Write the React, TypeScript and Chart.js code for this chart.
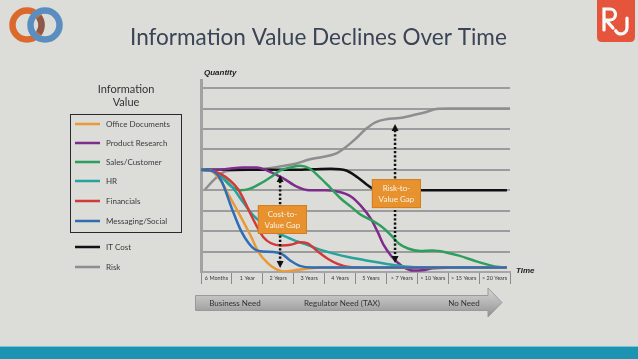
import React, { useEffect, useRef } from "react";
import { Chart, registerables } from "chart.js";

Chart.register(...registerables);

// ---------- data ----------
const categories = ["6 Months", "1 Year", "2 Years", "3 Years", "4 Years", "5 Years", "> 7 Years", "> 10 Years", "> 15 Years", "> 20 Years"];

const officeDocuments: [number, number][] = [[0, 5], [0.3, 4.97], [0.62, 4.5], [0.94, 3.65], [1.27, 2.75], [1.6, 1.8], [1.87, 0.95], [2.15, 0.45], [2.4, 0.17], [2.67, 0.03], [3.0, 0.07], [3.45, 0.17], [4.0, 0.22], [9.9, 0.22]];
const productResearch: [number, number][] = [[0, 5], [0.5, 5.0], [0.9, 5.06], [1.35, 5.12], [1.8, 5.12], [2.2, 4.93], [2.65, 4.6], [3.1, 4.18], [3.5, 4.0], [4.0, 4.0], [4.45, 3.93], [4.85, 3.7], [5.17, 3.25], [5.5, 2.6], [5.72, 1.95], [5.92, 1.3], [6.15, 0.8], [6.37, 0.45], [6.6, 0.2], [6.85, 0.07], [7.15, 0.08], [7.5, 0.18], [8.0, 0.21], [9.9, 0.22]];
const salesCustomer: [number, number][] = [[0, 5], [0.3, 4.97], [0.62, 4.73], [0.94, 4.24], [1.27, 4.0], [1.59, 4.08], [1.92, 4.33], [2.24, 4.63], [2.57, 4.97], [2.89, 5.12], [3.2, 5.2], [3.5, 5.08], [3.87, 4.6], [4.2, 4.1], [4.52, 3.6], [4.85, 3.2], [5.17, 2.8], [5.5, 2.55], [5.82, 2.25], [6.15, 1.8], [6.4, 1.4], [6.7, 1.15], [7.1, 1.03], [7.5, 1.05], [7.9, 0.97], [8.35, 0.8], [8.85, 0.55], [9.3, 0.35], [9.65, 0.24], [9.9, 0.22]];
const hr: [number, number][] = [[0, 5], [0.35, 4.95], [0.65, 4.7], [1.04, 4.1], [1.37, 3.4], [1.69, 2.77], [2.02, 2.35], [2.34, 2.02], [2.67, 1.78], [3.0, 1.56], [3.35, 1.38], [3.8, 1.12], [4.3, 0.9], [4.8, 0.72], [5.3, 0.58], [5.8, 0.45], [6.3, 0.33], [6.8, 0.24], [7.3, 0.21], [9.9, 0.22]];
const financials: [number, number][] = [[0, 5], [0.3, 4.97], [0.62, 4.82], [0.94, 4.48], [1.2, 4.05], [1.4, 3.5], [1.6, 2.85], [1.82, 2.2], [2.02, 1.7], [2.25, 1.42], [2.6, 1.3], [2.9, 1.33], [3.2, 1.46], [3.45, 1.4], [3.8, 0.98], [4.1, 0.65], [4.42, 0.4], [4.8, 0.24], [5.3, 0.21], [9.9, 0.22]];
const messagingSocial: [number, number][] = [[0, 5], [0.35, 4.95], [0.65, 4.5], [1.0, 3.1], [1.3, 2.0], [1.55, 1.4], [1.75, 1.1], [2.0, 1.0], [2.35, 0.98], [2.65, 0.85], [2.9, 0.55], [3.2, 0.3], [3.6, 0.22], [9.9, 0.22]];
const itCost: [number, number][] = [[0, 5], [1, 5], [2, 5], [3, 5.0], [3.6, 5.03], [4.2, 5.05], [4.7, 4.97], [5.05, 4.65], [5.35, 4.3], [5.6, 4.05], [5.9, 4.0], [9.9, 4.0]];
const risk: [number, number][] = [[0.13, 4.04], [0.46, 4.57], [0.8, 4.93], [1.5, 5.0], [2.2, 5.08], [2.6, 5.18], [3.06, 5.3], [3.5, 5.51], [3.93, 5.63], [4.36, 5.79], [4.69, 6.12], [5.01, 6.53], [5.34, 7.01], [5.66, 7.34], [6.0, 7.48], [6.42, 7.54], [6.85, 7.67], [7.29, 7.83], [7.61, 7.98], [8.05, 8.0], [10, 8.0]];

const valueNames = ["Office Documents", "Product Research", "Sales/Customer", "HR", "Financials", "Messaging/Social"];
const valueColors = ["#E89A3A", "#7D2C8C", "#2E9E5E", "#25A39C", "#D23A3A", "#2F6DB5"];
const otherNames = ["IT Cost", "Risk"];
const otherColors = ["#111111", "#8E8E8E"];

const arrowLabels = ["Business Need", "Regulator Need (TAX)", "No Need"];
const chartTitle = "Information Value Declines Over Time";

// ---------- decoration plugin ----------
const decor = {
  id: "decor",
  beforeDraw(chart: any) {
    const ctx = chart.ctx as CanvasRenderingContext2D;
    const W = chart.width, H = chart.height;
    ctx.save();
    ctx.fillStyle = "#DCDCD8";
    ctx.fillRect(0, 0, W, H);
    // bottom teal bar
    ctx.fillStyle = "#1B93B1";
    ctx.fillRect(0, 346, W, H - 346);
    ctx.fillStyle = "#7CC4D6";
    ctx.fillRect(0, 346, W, 1);

    // title
    ctx.font = "400 20px Lato, 'Open Sans', sans-serif";
    const tw = ctx.measureText(chartTitle).width;
    const fs = 20 * 377 / tw;
    ctx.font = `400 ${fs}px Lato, 'Open Sans', sans-serif`;
    ctx.fillStyle = "#3B4454";
    ctx.textAlign = "left";
    ctx.textBaseline = "alphabetic";
    ctx.fillText(chartTitle, 130, 45);

    // left logo (interlocking rings)
    ctx.lineWidth = 6.5;
    ctx.strokeStyle = "#D9692C";
    ctx.beginPath(); ctx.arc(27, 25, 14.5, 0, Math.PI * 2); ctx.stroke();
    ctx.strokeStyle = "#5A8DC0";
    ctx.beginPath(); ctx.arc(45, 25, 14.5, 0, Math.PI * 2); ctx.stroke();
    ctx.beginPath(); ctx.arc(27, 25, 14.5, -0.6, 0.6); ctx.strokeStyle = "#8C5A4A"; ctx.stroke();

    // right logo
    ctx.fillStyle = "#E4553B";
    const rx = 597, ry = -6, rw = 38, rh = 48, rr = 5;
    ctx.beginPath();
    ctx.moveTo(rx + rr, ry); ctx.lineTo(rx + rw - rr, ry); ctx.quadraticCurveTo(rx + rw, ry, rx + rw, ry + rr);
    ctx.lineTo(rx + rw, ry + rh - rr); ctx.quadraticCurveTo(rx + rw, ry + rh, rx + rw - rr, ry + rh);
    ctx.lineTo(rx + rr, ry + rh); ctx.quadraticCurveTo(rx, ry + rh, rx, ry + rh - rr);
    ctx.lineTo(rx, ry + rr); ctx.quadraticCurveTo(rx, ry, rx + rr, ry); ctx.fill();
    ctx.strokeStyle = "#FFFFFF"; ctx.lineWidth = 3.2; ctx.lineCap = "round";
    ctx.beginPath();
    ctx.moveTo(604, 30); ctx.lineTo(604, 9); ctx.lineTo(610, 9);
    ctx.arc(610, 14.5, 5.5, -Math.PI / 2, Math.PI / 2); ctx.lineTo(606, 20); ctx.lineTo(613, 28);
    ctx.stroke();
    ctx.beginPath(); ctx.moveTo(627, 18); ctx.lineTo(627, 28); ctx.arc(621, 28, 6, 0, Math.PI * 0.85); ctx.stroke();
    ctx.lineCap = "butt";

    // legend
    ctx.fillStyle = "#333";
    ctx.font = "11px Lato, sans-serif";
    ctx.textAlign = "center";
    ctx.textBaseline = "middle";
    ctx.fillText("Information", 126, 89);
    ctx.fillText("Value", 126, 102);
    ctx.strokeStyle = "#2A2A2A"; ctx.lineWidth = 1;
    ctx.strokeRect(70.5, 114.5, 111, 118);
    ctx.font = "8px Lato, sans-serif";
    ctx.textAlign = "left";
    const ys = [124, 143, 162, 181, 201, 221];
    valueNames.forEach((n, i) => {
      ctx.strokeStyle = valueColors[i]; ctx.lineWidth = 2.5;
      ctx.beginPath(); ctx.moveTo(75, ys[i]); ctx.lineTo(100, ys[i]); ctx.stroke();
      ctx.fillStyle = "#3A3A3A";
      ctx.fillText(n, 106, ys[i]);
    });
    const ys2 = [247, 267];
    otherNames.forEach((n, i) => {
      ctx.strokeStyle = otherColors[i]; ctx.lineWidth = 2.5;
      ctx.beginPath(); ctx.moveTo(75, ys2[i]); ctx.lineTo(100, ys2[i]); ctx.stroke();
      ctx.fillStyle = "#3A3A3A";
      ctx.fillText(n, 106, ys2[i]);
    });

    // axis titles
    ctx.fillStyle = "#222";
    ctx.font = "italic bold 8px 'Liberation Sans', sans-serif";
    ctx.textAlign = "left";
    ctx.fillText("Quantity", 204, 73);
    ctx.fillText("Time", 516, 271);

    // bottom arrow
    const g = ctx.createLinearGradient(0, 288, 0, 318);
    g.addColorStop(0, "#D6D6D6");
    g.addColorStop(0.5, "#B4B4B4");
    g.addColorStop(1, "#8E8E8E");
    ctx.fillStyle = g;
    ctx.strokeStyle = "#9A9A9A";
    ctx.lineWidth = 1;
    ctx.beginPath();
    ctx.moveTo(195.5, 295.5); ctx.lineTo(488, 295.5); ctx.lineTo(488, 288); ctx.lineTo(502, 302.5);
    ctx.lineTo(488, 317); ctx.lineTo(488, 310.5); ctx.lineTo(195.5, 310.5); ctx.closePath();
    ctx.fill(); ctx.stroke();
    ctx.fillStyle = "#333";
    ctx.font = "8px Lato, sans-serif";
    ctx.textAlign = "center";
    ctx.fillText(arrowLabels[0], 235, 303);
    ctx.fillText(arrowLabels[1], 342, 303);
    ctx.fillText(arrowLabels[2], 464, 303);
    ctx.restore();
  },
  afterDatasetsDraw(chart: any) {
    const ctx = chart.ctx as CanvasRenderingContext2D;
    const xs = chart.scales.x, ysc = chart.scales.y;
    const arrow = (xv: number, top: number, bot: number) => {
      const x = xs.getPixelForValue(xv);
      const y1 = ysc.getPixelForValue(top), y2 = ysc.getPixelForValue(bot);
      ctx.save();
      ctx.strokeStyle = "#111"; ctx.lineWidth = 2.5; ctx.setLineDash([2.2, 2]);
      ctx.beginPath(); ctx.moveTo(x, y1 + 6); ctx.lineTo(x, y2 - 6); ctx.stroke();
      ctx.setLineDash([]);
      ctx.fillStyle = "#111";
      ctx.beginPath(); ctx.moveTo(x, y1); ctx.lineTo(x - 3.5, y1 + 7); ctx.lineTo(x + 3.5, y1 + 7); ctx.closePath(); ctx.fill();
      ctx.beginPath(); ctx.moveTo(x, y2); ctx.lineTo(x - 3.5, y2 - 7); ctx.lineTo(x + 3.5, y2 - 7); ctx.closePath(); ctx.fill();
      ctx.restore();
    };
    const box = (x0: number, x1: number, yTop: number, yBot: number, l1: string, l2: string) => {
      const px0 = xs.getPixelForValue(x0), px1 = xs.getPixelForValue(x1);
      const py0 = ysc.getPixelForValue(yTop), py1 = ysc.getPixelForValue(yBot);
      ctx.save();
      ctx.fillStyle = "#E8922F";
      ctx.fillRect(px0, py0, px1 - px0, py1 - py0);
      ctx.strokeStyle = "#D17F22"; ctx.lineWidth = 1;
      ctx.strokeRect(px0 + 0.5, py0 + 0.5, px1 - px0 - 1, py1 - py0 - 1);
      ctx.fillStyle = "#FFF4E4";
      ctx.font = "8px Lato, sans-serif";
      ctx.textAlign = "center"; ctx.textBaseline = "middle";
      const cx = (px0 + px1) / 2, cy = (py0 + py1) / 2;
      ctx.fillText(l1, cx, cy - 5);
      ctx.fillText(l2, cx, cy + 6);
      ctx.restore();
    };
    arrow(2.56, 4.75, 0.2);
    arrow(6.28, 7.24, 0.44);
    box(1.84, 3.43, 3.28, 1.86, "Cost-to-", "Value Gap");
    box(5.53, 7.12, 4.55, 3.13, "Risk-to-", "Value Gap");
  },
};

const mk = (label: string, data: [number, number][], color: string, order: number) => ({
  label,
  data: data.map(([x, y]) => ({ x, y })),
  borderColor: color,
  backgroundColor: color,
  borderWidth: 2.5,
  pointRadius: 0,
  fill: false,
  cubicInterpolationMode: "monotone" as const,
  order,
});

export default function App() {
  const ref = useRef<HTMLCanvasElement | null>(null);
  useEffect(() => {
    if (!ref.current) return;
    const chart = new Chart(ref.current, {
      type: "line",
      data: {
        datasets: [
          mk(valueNames[5], messagingSocial, valueColors[5], 0),
          mk(valueNames[0], officeDocuments, valueColors[0], 1),
          mk(valueNames[4], financials, valueColors[4], 2),
          mk(valueNames[3], hr, valueColors[3], 3),
          mk(valueNames[2], salesCustomer, valueColors[2], 4),
          mk(valueNames[1], productResearch, valueColors[1], 5),
          mk(otherNames[0], itCost, otherColors[0], 6),
          mk(otherNames[1], risk, otherColors[1], 7),
        ],
      },
      options: {
        animation: false,
        responsive: false,
        events: [],
        layout: { padding: { left: 201, right: 128, top: 80, bottom: 73 } },
        plugins: { legend: { display: false }, tooltip: { enabled: false } },
        scales: {
          x: { type: "linear", min: 0, max: 10, display: false },
          xc: {
            type: "category",
            labels: categories,
            position: "bottom",
            offset: true,
            grid: { display: true, drawOnChartArea: false, drawTicks: true, tickLength: 12, offset: true, color: "#8A8A8A", lineWidth: 1 },
            border: { display: true, color: "#A5A5A5", width: 2 },
            ticks: { padding: -9, autoSkip: false, maxRotation: 0, color: "#3A3A3A", font: { family: "Lato, sans-serif", size: 5.5 } },
            afterFit: (s: any) => { s.height = 14; },
          },
          y: {
            type: "linear",
            min: 0,
            max: 9.4,
            ticks: { display: false, stepSize: 1, includeBounds: false },
            grid: { color: "#9C9C9C", lineWidth: 2, drawTicks: false },
            border: { display: true, color: "#A2A2A2", width: 3 },
            afterFit: (s: any) => { s.width = 0; },
          },
        },
      },
      plugins: [decor],
    } as any);
    return () => chart.destroy();
  }, []);
  return (
    <div style={{ position: "absolute", left: 0, top: 0, width: 638, height: 359 }}>
      <canvas ref={ref} width={638} height={359} style={{ display: "block" }} />
    </div>
  );
}
